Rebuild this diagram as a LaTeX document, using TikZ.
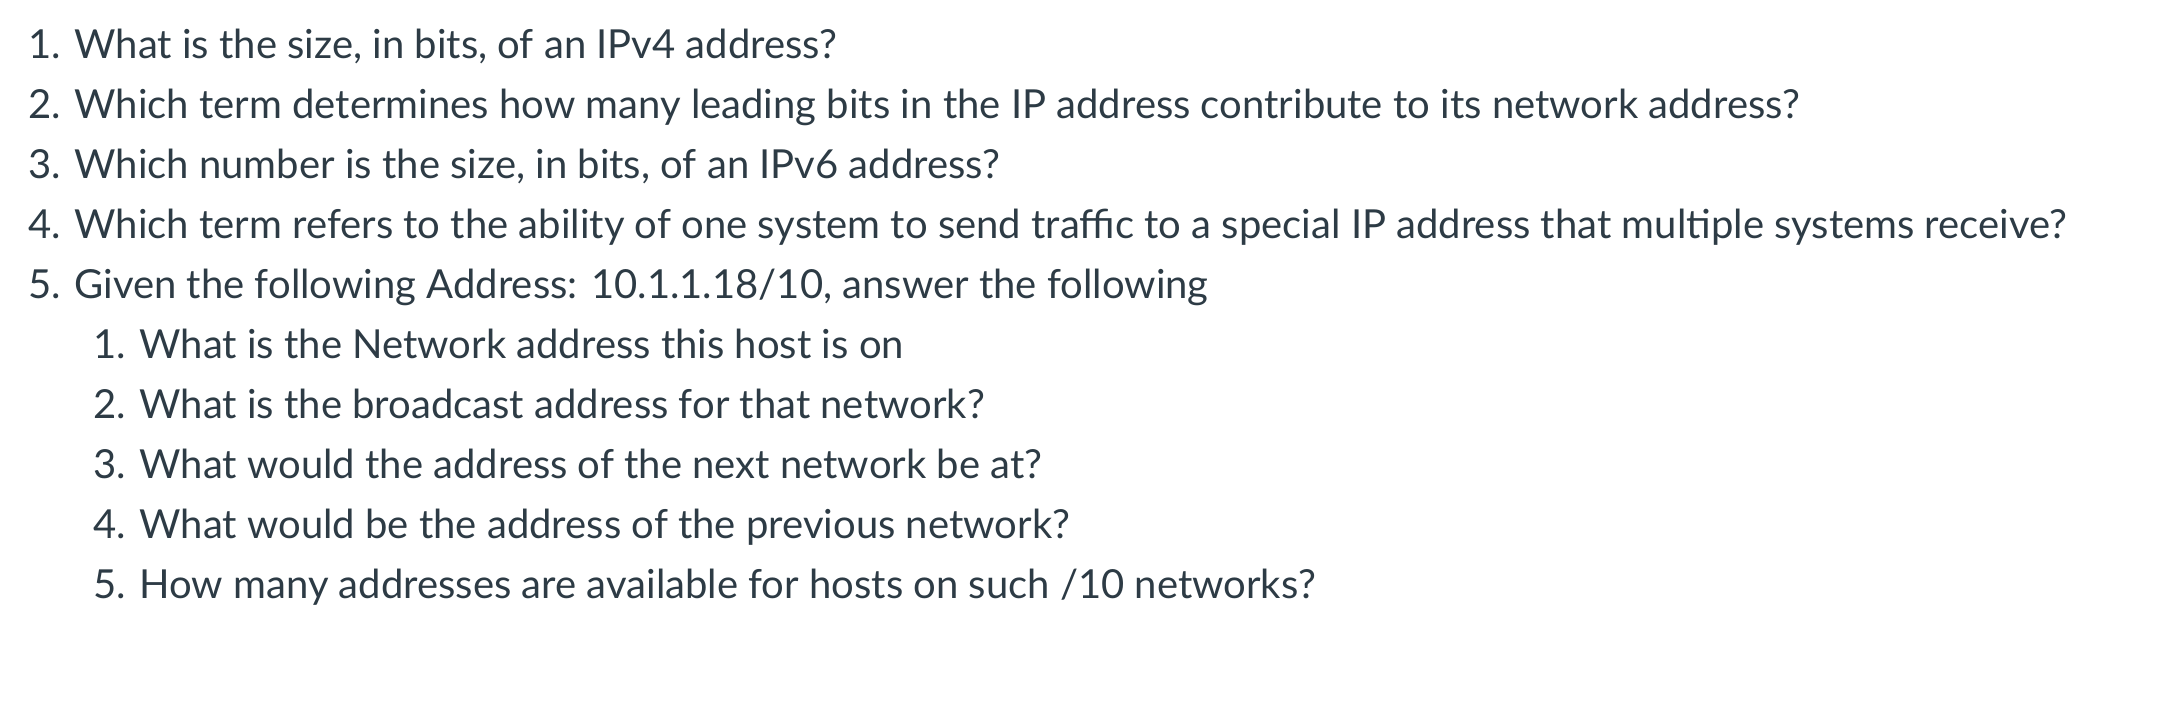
\documentclass[tikz,border=0pt]{standalone}
\usepackage{fontspec}
\setmainfont{Lato}
\definecolor{txt}{HTML}{2D3B45}
\begin{document}
\begin{tikzpicture}[x=1pt,y=-1pt,
  q/.style={anchor=base west,inner sep=0pt,text=txt,font=\fontsize{40}{46}\selectfont}]
\useasboundingbox (0,0) rectangle (2167,705);
\node[q] (q1) at (28,58) {1. What is the size, in bits, of an IPv4 address?};
\node[q] (q2) at (28,118) {2. Which term determines how many leading bits in the IP address contribute to its network address?};
\node[q] (q3) at (28,178) {3. Which number is the size, in bits, of an IPv6 address?};
\node[q] (q4) at (28,238) {4. Which term refers to the ability of one system to send traffic to a special IP address that multiple systems receive?};
\node[q] (q5) at (28,298) {5. Given the following Address: 10.1.1.18/10, answer the following};
\node[q] (s1) at (93,358) {1. What is the Network address this host is on};
\node[q] (s2) at (93,418) {2. What is the broadcast address for that network?};
\node[q] (s3) at (93,478) {3. What would the address of the next network be at?};
\node[q] (s4) at (93,538) {4. What would be the address of the previous network?};
\node[q] (s5) at (93,598) {5. How many addresses are available for hosts on such /10 networks?};
\end{tikzpicture}
\end{document}
